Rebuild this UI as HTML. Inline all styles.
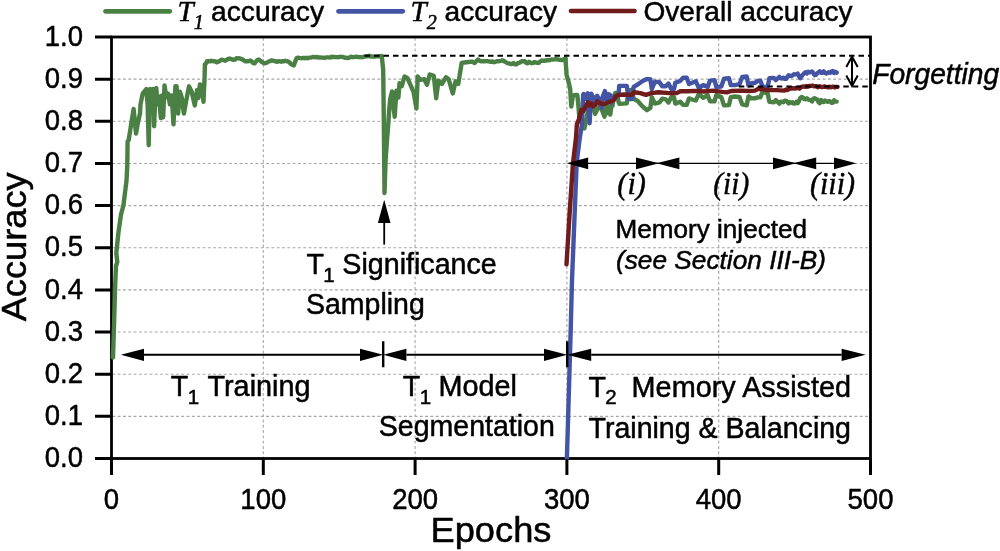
<!DOCTYPE html>
<html lang="en"><head><meta charset="utf-8"><title>Accuracy vs Epochs</title>
<style>html,body{margin:0;padding:0;background:#fff}body{width:1000px;height:551px;overflow:hidden}svg{display:block}</style>
</head><body>
<svg width="1000" height="551" viewBox="0 0 1000 551">
<rect width="1000" height="551" fill="#fff"/>
<path d="M111.5 416.35H870.5M111.5 374.20H870.5M111.5 332.05H870.5M111.5 289.90H870.5M111.5 247.75H870.5M111.5 205.60H870.5M111.5 163.45H870.5M111.5 121.30H870.5M111.5 79.15H870.5M263.30 37.0V458.5M415.10 37.0V458.5M566.90 37.0V458.5M718.70 37.0V458.5" stroke="#a6a6a6" stroke-width="1.1" stroke-dasharray="2.9 2.4" stroke-dashoffset="-0.9" fill="none"/>
<rect x="111.5" y="37.0" width="759.0" height="421.5" fill="none" stroke="#000" stroke-width="2.8"/>
<path d="M95 458.50H111.5M95 416.35H111.5M95 374.20H111.5M95 332.05H111.5M95 289.90H111.5M95 247.75H111.5M95 205.60H111.5M95 163.45H111.5M95 121.30H111.5M95 79.15H111.5M95 37.00H111.5M111.50 458.5V475M263.30 458.5V475M415.10 458.5V475M566.90 458.5V475M718.70 458.5V475M870.50 458.5V475" stroke="#000" stroke-width="3" fill="none"/>
<clipPath id="pc"><rect x="108" y="36" width="766" height="423.2"/></clipPath><g clip-path="url(#pc)">
<path d="M113.0 357.5 L114.2 320.0 L115.1 287.0 L116.0 266.0 L117.3 262.0 L116.3 253.0 L118.5 232.0 L121.0 214.5 L123.4 205.5 L126.5 180.8 L127.3 165.0 L127.6 141.7 L128.7 139.8 L133.6 109.0 L136.0 133.5 L138.1 121.7 L140.0 113.5 L140.5 104.4 L142.7 93.6 L146.3 89.0 L147.6 104.4 L148.7 145.3 L149.6 104.4 L150.1 89.0 L151.8 102.6 L153.2 89.0 L154.1 126.2 L155.6 89.0 L156.3 88.1 L157.4 104.4 L159.0 96.3 L160.8 118.1 L162.1 95.4 L163.2 117.2 L164.5 85.4 L166.3 97.2 L168.1 93.6 L169.9 104.4 L171.7 95.4 L173.5 124.4 L175.4 86.3 L176.6 86.3 L178.1 113.5 L179.9 91.7 L181.7 97.2 L183.9 113.5 L186.2 100.8 L189.0 86.3 L191.7 91.7 L194.8 105.4 L197.1 89.9 L198.4 98.1 L199.9 84.5 L201.7 85.4 L203.5 101.7 L204.6 77.2 L204.9 64.5 L206.8 62.3 L207.0 61.3 L208.4 61.1 L209.8 61.4 L211.2 60.8 L212.6 61.1 L214.0 61.2 L215.4 61.4 L216.8 62.3 L218.2 61.6 L219.6 61.1 L221.0 59.9 L222.4 59.7 L223.8 60.2 L225.2 60.7 L226.6 59.8 L228.0 59.0 L229.4 58.5 L230.8 58.9 L232.2 59.5 L233.6 59.7 L235.0 59.6 L236.4 58.2 L237.8 58.4 L239.2 58.3 L240.6 58.7 L242.0 59.3 L243.4 60.0 L244.8 61.2 L246.2 61.2 L247.6 61.3 L249.0 61.0 L250.4 60.5 L251.8 61.6 L253.2 63.0 L254.6 63.3 L256.0 61.5 L257.4 60.0 L258.8 59.5 L260.2 60.5 L261.6 61.8 L263.0 62.7 L264.4 63.2 L265.8 63.1 L267.2 62.5 L268.6 61.5 L270.0 61.1 L271.4 60.3 L272.8 60.6 L274.2 61.0 L275.6 61.2 L277.0 61.9 L278.4 61.2 L279.8 61.4 L281.2 61.7 L282.6 61.1 L284.0 61.3 L285.4 60.8 L286.8 61.3 L288.2 61.4 L289.6 62.5 L291.0 64.1 L292.4 64.8 L293.8 65.4 L295.2 61.6 L296.6 58.1 L298.0 57.7 L299.4 57.9 L302.0 58.2 L303.4 57.9 L304.8 58.2 L306.2 57.8 L307.6 58.2 L309.0 57.7 L310.4 57.6 L311.8 57.3 L313.2 56.9 L314.6 57.1 L316.0 57.3 L317.4 57.0 L318.8 57.5 L320.2 57.5 L321.6 57.6 L323.0 57.6 L324.4 58.0 L325.8 57.4 L327.2 57.4 L328.6 57.4 L330.0 57.6 L331.4 56.8 L332.8 57.0 L334.2 56.9 L335.6 57.1 L337.0 57.1 L338.4 57.2 L339.8 56.7 L341.2 56.9 L342.6 56.9 L344.0 57.3 L345.4 57.9 L346.8 57.8 L348.2 58.1 L349.6 57.5 L351.0 56.8 L352.4 57.0 L353.8 57.1 L355.2 56.9 L356.6 56.7 L358.0 57.1 L359.4 57.1 L360.8 57.1 L362.2 57.2 L363.6 56.8 L365.0 56.5 L366.4 56.3 L367.8 56.2 L369.2 55.7 L370.6 56.5 L372.0 56.5 L373.4 56.6 L374.8 56.7 L376.2 56.4 L377.6 56.4 L379.0 56.2 L380.4 56.6 L381.8 56.1 L383.2 70.0 L383.8 120.0 L384.5 193.0 L385.6 160.0 L387.0 140.0 L388.2 125.0 L389.2 109.9 L390.2 99.0 L392.0 91.5 L393.2 104.4 L394.7 116.7 L395.7 101.7 L396.4 90.8 L398.4 97.6 L399.5 83.3 L401.8 86.1 L404.5 76.5 L407.3 77.9 L410.7 85.4 L413.6 92.2 L416.4 108.5 L417.7 76.5 L420.2 79.9 L424.3 79.3 L427.0 84.7 L429.7 74.5 L433.8 75.9 L436.2 98.3 L438.5 80.6 L441.9 84.0 L446.0 77.2 L448.7 79.3 L452.8 93.5 L455.6 81.3 L458.3 84.0 L460.0 73.1 L461.7 62.9 L466.4 62.2 L471.9 61.6 L474.6 62.9 L478.0 59.5 L480.0 61.1 L481.4 61.2 L482.8 61.2 L484.2 61.4 L485.6 61.1 L487.0 61.1 L488.4 61.4 L489.8 61.5 L491.2 61.8 L492.6 61.5 L494.0 62.2 L495.4 61.8 L496.8 61.3 L498.2 61.2 L499.6 61.1 L501.0 60.9 L502.4 60.4 L503.8 60.8 L505.2 61.9 L506.6 62.6 L508.0 63.4 L509.4 63.5 L510.8 64.1 L512.2 63.8 L513.6 63.0 L515.0 64.3 L516.4 64.4 L517.8 63.1 L519.2 62.8 L520.6 62.0 L522.0 61.3 L523.4 61.2 L524.8 61.2 L526.2 62.9 L527.6 63.3 L529.0 61.8 L530.4 62.6 L531.8 63.2 L533.2 62.8 L534.6 61.9 L536.0 62.6 L537.4 62.8 L538.8 62.8 L540.2 61.5 L541.6 60.5 L543.0 60.7 L544.4 60.7 L545.8 60.5 L547.2 60.3 L548.6 60.2 L550.0 60.0 L551.4 59.5 L552.8 59.6 L554.2 59.4 L555.6 59.2 L557.0 59.3 L558.4 59.6 L559.8 59.7 L561.2 60.1 L562.6 60.0 L564.0 59.2 L565.5 58.6" stroke="#4a8044" stroke-width="4.4" fill="none" stroke-linejoin="round" stroke-linecap="round"/>
<path d="M565.5 58.6 L566.6 75.0 L568.5 81.5 L570.2 89.2 L571.3 106.6 L572.9 95.6 L575.5 94.9 L577.3 94.9 L578.4 105.8 L579.4 118.9 L581.5 123.0 L584.4 128.4 L586.5 118.0 L588.5 108.0 L591.4 102.2 L593.3 108.0 L595.1 113.8 L598.0 108.0 L600.1 105.8 L602.3 111.0 L604.5 116.7 L605.8 108.0 L606.7 113.0 L607.4 106.0 L608.1 113.0 L609.0 107.0 L610.3 114.5 L611.3 107.0 L612.5 105.8 L613.7 96.8 L615.4 93.0 L617.0 93.0 L618.6 102.2 L619.5 103.9 L626.8 103.4 L628.6 90.5 L632.2 89.8 L633.6 98.8 L637.7 101.0 L642.2 106.1 L646.8 110.2 L650.4 107.8 L651.8 97.1 L654.9 103.6 L659.5 102.4 L662.2 98.7 L665.8 99.3 L668.5 102.5 L671.3 97.2 L674.0 97.2 L675.3 103.6 L680.3 101.8 L683.1 104.9 L686.7 104.9 L689.0 98.4 L692.1 99.5 L695.8 100.5 L698.5 94.8 L700.3 94.6 L700.4 95.4 L703.2 97.7 L707.7 95.3 L710.0 101.2 L714.5 101.4 L716.3 95.1 L721.3 97.1 L724.0 105.4 L729.0 105.1 L730.8 97.2 L734.9 96.5 L739.5 97.0 L742.2 104.3 L746.7 105.3 L748.5 96.4 L751.3 98.4 L754.9 98.3 L757.6 97.4 L760.3 97.4 L762.6 91.6 L767.6 93.3 L769.4 101.9 L773.9 102.4 L775.8 100.1 L779.4 103.7 L779.5 103.2 L780.8 101.6 L782.1 101.7 L783.4 102.2 L784.7 100.8 L786.0 100.8 L787.3 101.8 L788.6 103.4 L789.9 102.3 L791.2 102.7 L792.5 102.3 L793.8 103.6 L795.1 103.5 L796.4 101.8 L797.7 103.1 L799.0 101.0 L800.3 98.0 L801.6 97.0 L802.9 97.5 L804.2 99.1 L805.5 99.2 L806.8 98.3 L808.1 99.4 L809.4 99.9 L810.7 100.2 L812.0 101.4 L813.3 98.7 L814.6 98.3 L815.9 99.0 L817.2 99.4 L818.5 102.1 L819.8 103.2 L821.1 100.1 L822.4 101.8 L823.7 102.0 L825.0 100.5 L826.3 101.3 L827.6 101.8 L828.9 101.1 L830.2 101.4 L831.5 102.9 L832.8 102.8 L834.1 100.3 L835.4 101.6 L836.7 101.6" stroke="#4a8044" stroke-width="4.4" fill="none" stroke-linejoin="round" stroke-linecap="round"/>
<path d="M566.9 458.5 L570.7 330.0 L572.0 280.0 L576.7 162.5 L579.8 137.8 L582.0 124.0 L583.1 95.0 L583.6 94.0 L584.9 99.0 L586.0 96.0 L587.8 93.3 L588.7 106.0 L589.6 123.2 L590.5 106.0 L591.4 93.6 L593.6 101.5 L595.8 96.9 L597.2 95.8 L599.1 99.0 L601.6 108.0 L602.7 96.9 L604.9 91.1 L605.8 99.0 L606.7 95.4 L607.4 102.0 L608.1 94.0 L609.0 101.0 L609.9 94.7 L610.9 103.0 L611.8 99.0 L613.2 96.5 L616.5 97.2 L618.6 95.2 L619.2 85.9 L619.5 85.9 L626.8 85.9 L628.6 99.0 L632.2 99.0 L633.6 86.8 L637.7 84.5 L642.2 81.3 L646.8 79.1 L650.4 79.1 L651.8 89.0 L654.9 81.8 L659.5 82.2 L662.2 86.3 L665.8 86.3 L668.5 83.6 L671.3 89.0 L674.0 89.0 L675.3 82.7 L680.3 80.9 L683.1 77.7 L686.7 77.7 L689.0 84.1 L692.1 82.7 L695.8 81.3 L698.5 87.2 L700.3 87.7 L700.4 86.9 L703.2 85.1 L707.7 86.9 L710.0 80.6 L714.5 80.1 L716.3 86.9 L721.3 86.5 L724.0 78.8 L729.0 78.3 L730.8 85.1 L734.9 85.1 L739.5 84.2 L742.2 76.9 L746.7 76.5 L748.5 85.6 L751.3 83.3 L754.9 82.8 L757.6 81.0 L760.3 80.6 L762.6 86.9 L767.6 86.9 L769.4 78.3 L773.9 77.9 L775.8 80.1 L779.4 76.9 L779.5 77.8 L780.8 78.3 L782.1 78.5 L783.4 77.7 L784.7 78.9 L786.0 78.9 L787.3 77.0 L788.6 75.2 L789.9 75.8 L791.2 76.1 L792.5 75.5 L793.8 74.3 L795.1 74.4 L796.4 74.4 L797.7 73.6 L799.0 76.3 L800.3 78.2 L801.6 76.3 L802.9 74.5 L804.2 73.3 L805.5 72.2 L806.8 73.4 L808.1 71.8 L809.4 72.4 L810.7 72.2 L812.0 71.5 L813.3 73.0 L814.6 75.2 L815.9 74.9 L817.2 73.4 L818.5 72.3 L819.8 71.4 L821.1 72.8 L822.4 72.7 L823.7 71.3 L825.0 73.0 L826.3 73.5 L827.6 72.9 L828.9 72.3 L830.2 72.7 L831.5 71.6 L832.8 71.1 L834.1 73.0 L835.4 71.8 L836.7 72.6" stroke="#4454a4" stroke-width="4.4" fill="none" stroke-linejoin="round" stroke-linecap="round"/>
<path d="M566.5 264.3 L569.5 215.0 L573.0 163.0 L576.0 137.8 L576.9 124.0 L579.1 118.9 L581.3 110.1 L583.4 110.9 L585.6 106.5 L587.8 102.2 L589.6 105.4 L591.4 103.6 L593.2 106.5 L595.1 105.1 L597.2 101.4 L599.4 102.9 L601.6 103.6 L603.8 104.3 L606.7 102.9 L609.6 101.8 L612.5 100.7 L613.7 100.2 L615.9 95.9 L618.6 95.2 L618.6 94.9 L624.1 94.5 L631.8 94.9 L634.1 92.2 L640.4 93.1 L645.9 94.9 L651.3 93.1 L658.6 92.2 L669.4 93.1 L676.7 93.1 L680.3 91.3 L687.6 91.3 L696.7 90.9 L704.1 91.5 L713.1 90.6 L722.2 91.9 L726.8 92.4 L731.3 91.0 L740.4 90.6 L749.4 91.0 L754.9 90.6 L758.5 88.7 L762.2 89.2 L767.6 90.1 L776.7 90.1 L784.1 90.6 L785.4 89.7 L786.7 90.1 L788.0 89.8 L789.3 88.8 L790.6 88.6 L791.9 88.5 L793.2 88.2 L794.5 88.6 L795.8 88.1 L797.1 88.2 L798.4 87.7 L799.7 88.6 L801.0 87.2 L802.3 86.7 L803.6 86.4 L804.9 86.8 L806.2 86.0 L807.5 86.7 L808.8 86.0 L810.1 86.0 L811.4 85.9 L812.7 85.5 L814.0 86.3 L815.3 86.2 L816.6 86.1 L817.9 87.2 L819.2 86.3 L820.5 86.7 L821.8 87.1 L823.1 86.8 L824.4 86.5 L825.7 86.8 L827.0 87.0 L828.3 87.4 L829.6 86.6 L830.9 87.3 L832.2 86.8 L833.5 86.8 L834.8 87.4 L836.1 86.9 L837.4 86.9" stroke="#701c1c" stroke-width="4.4" fill="none" stroke-linejoin="round" stroke-linecap="round"/>
</g>
<path d="M364.5 55.7H870.5M738.8 86.6H870.5" stroke="#000" stroke-width="2" stroke-dasharray="5.5 4" fill="none"/>
<g font-family="'Liberation Sans', Arial, Helvetica, sans-serif" fill="#000" stroke="#000" stroke-width="0.5" stroke-linejoin="round">
<g font-size="28.6" text-anchor="end">
<text x="83" y="467.1" textLength="38.2" lengthAdjust="spacingAndGlyphs">0.0</text>
<text x="83" y="425.0" textLength="38.2" lengthAdjust="spacingAndGlyphs">0.1</text>
<text x="83" y="382.8" textLength="38.2" lengthAdjust="spacingAndGlyphs">0.2</text>
<text x="83" y="340.7" textLength="38.2" lengthAdjust="spacingAndGlyphs">0.3</text>
<text x="83" y="298.5" textLength="38.2" lengthAdjust="spacingAndGlyphs">0.4</text>
<text x="83" y="256.4" textLength="38.2" lengthAdjust="spacingAndGlyphs">0.5</text>
<text x="83" y="214.2" textLength="38.2" lengthAdjust="spacingAndGlyphs">0.6</text>
<text x="83" y="172.1" textLength="38.2" lengthAdjust="spacingAndGlyphs">0.7</text>
<text x="83" y="129.9" textLength="38.2" lengthAdjust="spacingAndGlyphs">0.8</text>
<text x="83" y="87.7" textLength="38.2" lengthAdjust="spacingAndGlyphs">0.9</text>
<text x="83" y="45.6" textLength="38.2" lengthAdjust="spacingAndGlyphs">1.0</text>
</g>
<g font-size="28.6" text-anchor="middle">
<text x="111.5" y="508.5" textLength="15.3" lengthAdjust="spacingAndGlyphs">0</text>
<text x="263.3" y="508.5" textLength="45.9" lengthAdjust="spacingAndGlyphs">100</text>
<text x="415.1" y="508.5" textLength="45.9" lengthAdjust="spacingAndGlyphs">200</text>
<text x="566.9" y="508.5" textLength="45.9" lengthAdjust="spacingAndGlyphs">300</text>
<text x="718.7" y="508.5" textLength="45.9" lengthAdjust="spacingAndGlyphs">400</text>
<text x="870.5" y="508.5" textLength="45.9" lengthAdjust="spacingAndGlyphs">500</text>
</g>
<text x="491" y="542" font-size="35" text-anchor="middle" textLength="121" lengthAdjust="spacingAndGlyphs">Epochs</text>
<text transform="translate(25.7 246.8) rotate(-90)" font-size="35" text-anchor="middle" textLength="149" lengthAdjust="spacingAndGlyphs">Accuracy</text>
<path d="M105.5 11.3H169.8" stroke="#4a8044" stroke-width="4.7" stroke-linecap="round"/>
<path d="M338.5 11.3H402.8" stroke="#4454a4" stroke-width="4.7" stroke-linecap="round"/>
<path d="M571 11.0H634.5" stroke="#701c1c" stroke-width="4.7" stroke-linecap="round"/>
<text x="177.5" y="21" font-size="28"><tspan font-family="'Liberation Serif', 'Times New Roman', serif" font-style="italic" font-size="29">T</tspan><tspan font-family="'Liberation Serif', 'Times New Roman', serif" font-style="italic" font-size="20" dy="8">1</tspan><tspan dy="-8" x="211" textLength="113" lengthAdjust="spacingAndGlyphs">accuracy</tspan></text>
<text x="410.5" y="21" font-size="28"><tspan font-family="'Liberation Serif', 'Times New Roman', serif" font-style="italic" font-size="29">T</tspan><tspan font-family="'Liberation Serif', 'Times New Roman', serif" font-style="italic" font-size="20" dy="8">2</tspan><tspan dy="-8" x="444.5" textLength="112.5" lengthAdjust="spacingAndGlyphs">accuracy</tspan></text>
<text x="643.5" y="21" font-size="28" textLength="209" lengthAdjust="spacingAndGlyphs">Overall accuracy</text>
<text x="306.5" y="274.1" font-size="28.6">T<tspan font-size="20.5" dy="7.8" dx="-0.6">1</tspan></text>
<text x="342.3" y="274.1" font-size="28.6" textLength="154.5" lengthAdjust="spacingAndGlyphs">Significance</text>
<text x="306" y="314.1" font-size="28.6" textLength="118.8" lengthAdjust="spacingAndGlyphs">Sampling</text>
<text x="170.8" y="396" font-size="28.6">T<tspan font-size="20.5" dy="7.8" dx="-0.6">1</tspan></text>
<text x="207.5" y="396" font-size="28.6" textLength="103" lengthAdjust="spacingAndGlyphs">Training</text>
<text x="402.8" y="396" font-size="28.6">T<tspan font-size="20.5" dy="7.8" dx="-0.6">1</tspan></text>
<text x="438.5" y="396" font-size="28.6" textLength="78.5" lengthAdjust="spacingAndGlyphs">Model</text>
<text x="378.8" y="436.2" font-size="28.6" textLength="176" lengthAdjust="spacingAndGlyphs">Segmentation</text>
<text x="588.5" y="396.6" font-size="28.6">T<tspan font-size="20.5" dy="7.8" dx="-0.6">2</tspan></text>
<text x="631.6" y="396.6" font-size="28.6" textLength="219.5" lengthAdjust="spacingAndGlyphs">Memory Assisted</text>
<text x="588.5" y="437.6" font-size="28.6" textLength="262.5" lengthAdjust="spacingAndGlyphs">Training &amp; Balancing</text>
<text x="615.5" y="237.8" font-size="26" textLength="191.5" lengthAdjust="spacingAndGlyphs">Memory injected</text>
<text x="616" y="268.5" font-size="26" font-style="italic" textLength="210" lengthAdjust="spacingAndGlyphs">(see Section III-B)</text>
<text x="872.2" y="83.8" font-size="28.6" font-style="italic" textLength="127" lengthAdjust="spacingAndGlyphs">Forgetting</text>
</g>
<g font-family="'Liberation Serif', 'Times New Roman', serif" font-style="italic" font-size="31.5" fill="#000" stroke="#000" stroke-width="0.45">
<text x="617.3" y="193.6" textLength="28.6" lengthAdjust="spacingAndGlyphs">(i)</text>
<text x="713.3" y="193.6" textLength="36" lengthAdjust="spacingAndGlyphs">(ii)</text>
<text x="809.9" y="193.6" textLength="45.2" lengthAdjust="spacingAndGlyphs">(iii)</text>
</g>
<path d="M144.0 354.8H360.0" stroke="#000" stroke-width="2.1" fill="none"/><path d="M120.8 354.8L144.0 348.7V360.90000000000003Z" fill="#000"/><path d="M383.2 354.8L360.0 348.7V360.90000000000003Z" fill="#000"/>
<path d="M406.4 354.8H544.0" stroke="#000" stroke-width="2.1" fill="none"/><path d="M383.2 354.8L406.4 348.7V360.90000000000003Z" fill="#000"/><path d="M567.2 354.8L544.0 348.7V360.90000000000003Z" fill="#000"/>
<path d="M591.2 354.8H841.6" stroke="#000" stroke-width="2.1" fill="none"/><path d="M567.2 354.8L591.2 348.7V360.90000000000003Z" fill="#000"/><path d="M865.6 354.8L841.6 348.7V360.90000000000003Z" fill="#000"/>
<path d="M383.2 341.3V367.2M567.2 341.3V367.2" stroke="#000" stroke-width="2.4" fill="none"/>
<path d="M580 163.35H840" stroke="#000" stroke-width="1.45" fill="none"/>
<path d="M566.6 163.35L588.2 157.54999999999998V169.15Z" fill="#000"/>
<path d="M659 163.35L636 157.54999999999998V169.15Z" fill="#000"/>
<path d="M656.4 163.35L679.4 157.54999999999998V169.15Z" fill="#000"/>
<path d="M796 163.35L773 157.54999999999998V169.15Z" fill="#000"/>
<path d="M793.2 163.35L816.2 157.54999999999998V169.15Z" fill="#000"/>
<path d="M856.3 163.35L834.0 157.54999999999998V169.15Z" fill="#000"/>
<path d="M384.2 244.6V222" stroke="#000" stroke-width="1.8" fill="none"/><path d="M384.2 199.7L377.9 223H390.5Z" fill="#000"/>
<path d="M852 56.5V86M846.3 67L852 56.5L857.7 67M846.3 75.5L852 86L857.7 75.5" stroke="#000" stroke-width="2" fill="none" stroke-linejoin="miter"/>
</svg>
</body></html>
